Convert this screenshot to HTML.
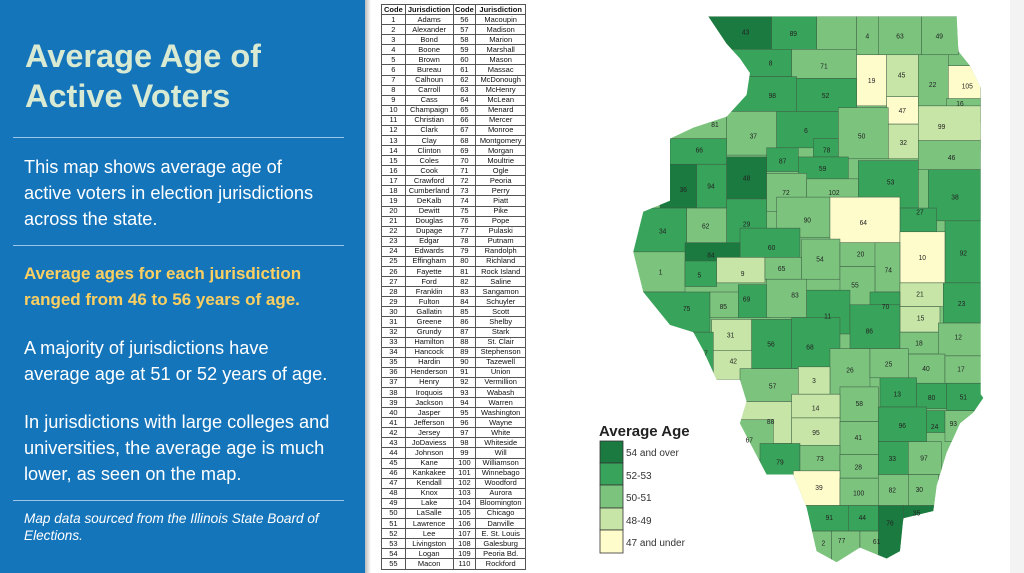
<!DOCTYPE html>
<html><head><meta charset="utf-8"><style>
*{margin:0;padding:0;box-sizing:border-box}
body{width:1024px;height:573px;position:relative;overflow:hidden;background:#fff;font-family:"Liberation Sans",sans-serif}
#left{position:absolute;left:0;top:0;width:365px;height:573px;background:#1575bb;color:#fff}
#shadow{position:absolute;left:365px;top:0;width:6px;height:573px;background:linear-gradient(to right,#bbb,#fff)}
.t{position:absolute;left:25px;font-weight:bold;font-size:32.5px;color:#d9ead3;line-height:40px}
.hr{position:absolute;left:13px;width:331px;height:1px;background:#9cc6e8}
.p{position:absolute;left:24px;font-size:18.2px;line-height:26px;color:#fff;white-space:nowrap}
.y{color:#fcd060;font-weight:bold;font-size:17px}
.i{font-style:italic;font-size:13.6px;line-height:17px}
table{position:absolute;left:381px;top:4px;width:145px;height:566px;border-collapse:collapse;font-size:7.5px;text-align:center;color:#111}
td,th{border:1px solid #555;padding:0;line-height:8px;white-space:nowrap}
th{font-weight:bold}
#rg{position:absolute;left:1010px;top:0;width:14px;height:573px;background:#f3f3f3}
</style></head><body>
<div id="left">
<div class="t" style="top:36px">Average Age of<br>Active Voters</div>
<div class="hr" style="top:137px"></div>
<div class="p" style="top:154px">This map shows average age of<br>active voters in election jurisdictions<br>across the state.</div>
<div class="hr" style="top:245px"></div>
<div class="p y" style="top:261px">Average ages for each jurisdiction<br>ranged from 46 to 56 years of age.</div>
<div class="p" style="top:335px">A majority of jurisdictions have<br>average age at 51 or 52 years of age.</div>
<div class="p" style="top:409px">In jurisdictions with large colleges and<br>universities, the average age is much<br>lower, as seen on the map.</div>
<div class="hr" style="top:500px"></div>
<div class="p i" style="top:510px">Map data sourced from the Illinois State Board of<br>Elections.</div>
</div>
<div id="shadow"></div>
<table>
<colgroup><col style="width:24px"><col style="width:48px"><col style="width:23px"><col style="width:50px"></colgroup>
<tr><th>Code</th><th>Jurisdiction</th><th>Code</th><th>Jurisdiction</th></tr>
<tr><td>1</td><td>Adams</td><td>56</td><td>Macoupin</td></tr>
<tr><td>2</td><td>Alexander</td><td>57</td><td>Madison</td></tr>
<tr><td>3</td><td>Bond</td><td>58</td><td>Marion</td></tr>
<tr><td>4</td><td>Boone</td><td>59</td><td>Marshall</td></tr>
<tr><td>5</td><td>Brown</td><td>60</td><td>Mason</td></tr>
<tr><td>6</td><td>Bureau</td><td>61</td><td>Massac</td></tr>
<tr><td>7</td><td>Calhoun</td><td>62</td><td>McDonough</td></tr>
<tr><td>8</td><td>Carroll</td><td>63</td><td>McHenry</td></tr>
<tr><td>9</td><td>Cass</td><td>64</td><td>McLean</td></tr>
<tr><td>10</td><td>Champaign</td><td>65</td><td>Menard</td></tr>
<tr><td>11</td><td>Christian</td><td>66</td><td>Mercer</td></tr>
<tr><td>12</td><td>Clark</td><td>67</td><td>Monroe</td></tr>
<tr><td>13</td><td>Clay</td><td>68</td><td>Montgomery</td></tr>
<tr><td>14</td><td>Clinton</td><td>69</td><td>Morgan</td></tr>
<tr><td>15</td><td>Coles</td><td>70</td><td>Moultrie</td></tr>
<tr><td>16</td><td>Cook</td><td>71</td><td>Ogle</td></tr>
<tr><td>17</td><td>Crawford</td><td>72</td><td>Peoria</td></tr>
<tr><td>18</td><td>Cumberland</td><td>73</td><td>Perry</td></tr>
<tr><td>19</td><td>DeKalb</td><td>74</td><td>Piatt</td></tr>
<tr><td>20</td><td>Dewitt</td><td>75</td><td>Pike</td></tr>
<tr><td>21</td><td>Douglas</td><td>76</td><td>Pope</td></tr>
<tr><td>22</td><td>Dupage</td><td>77</td><td>Pulaski</td></tr>
<tr><td>23</td><td>Edgar</td><td>78</td><td>Putnam</td></tr>
<tr><td>24</td><td>Edwards</td><td>79</td><td>Randolph</td></tr>
<tr><td>25</td><td>Effingham</td><td>80</td><td>Richland</td></tr>
<tr><td>26</td><td>Fayette</td><td>81</td><td>Rock Island</td></tr>
<tr><td>27</td><td>Ford</td><td>82</td><td>Saline</td></tr>
<tr><td>28</td><td>Franklin</td><td>83</td><td>Sangamon</td></tr>
<tr><td>29</td><td>Fulton</td><td>84</td><td>Schuyler</td></tr>
<tr><td>30</td><td>Gallatin</td><td>85</td><td>Scott</td></tr>
<tr><td>31</td><td>Greene</td><td>86</td><td>Shelby</td></tr>
<tr><td>32</td><td>Grundy</td><td>87</td><td>Stark</td></tr>
<tr><td>33</td><td>Hamilton</td><td>88</td><td>St. Clair</td></tr>
<tr><td>34</td><td>Hancock</td><td>89</td><td>Stephenson</td></tr>
<tr><td>35</td><td>Hardin</td><td>90</td><td>Tazewell</td></tr>
<tr><td>36</td><td>Henderson</td><td>91</td><td>Union</td></tr>
<tr><td>37</td><td>Henry</td><td>92</td><td>Vermillion</td></tr>
<tr><td>38</td><td>Iroquois</td><td>93</td><td>Wabash</td></tr>
<tr><td>39</td><td>Jackson</td><td>94</td><td>Warren</td></tr>
<tr><td>40</td><td>Jasper</td><td>95</td><td>Washington</td></tr>
<tr><td>41</td><td>Jefferson</td><td>96</td><td>Wayne</td></tr>
<tr><td>42</td><td>Jersey</td><td>97</td><td>White</td></tr>
<tr><td>43</td><td>JoDaviess</td><td>98</td><td>Whiteside</td></tr>
<tr><td>44</td><td>Johnson</td><td>99</td><td>Will</td></tr>
<tr><td>45</td><td>Kane</td><td>100</td><td>Williamson</td></tr>
<tr><td>46</td><td>Kankakee</td><td>101</td><td>Winnebago</td></tr>
<tr><td>47</td><td>Kendall</td><td>102</td><td>Woodford</td></tr>
<tr><td>48</td><td>Knox</td><td>103</td><td>Aurora</td></tr>
<tr><td>49</td><td>Lake</td><td>104</td><td>Bloomington</td></tr>
<tr><td>50</td><td>LaSalle</td><td>105</td><td>Chicago</td></tr>
<tr><td>51</td><td>Lawrence</td><td>106</td><td>Danville</td></tr>
<tr><td>52</td><td>Lee</td><td>107</td><td>E. St. Louis</td></tr>
<tr><td>53</td><td>Livingston</td><td>108</td><td>Galesburg</td></tr>
<tr><td>54</td><td>Logan</td><td>109</td><td>Peoria Bd.</td></tr>
<tr><td>55</td><td>Macon</td><td>110</td><td>Rockford</td></tr>
</table>
<div id="rg"></div>
<svg width="1024" height="573" style="position:absolute;left:0;top:0">
<defs><clipPath id="il"><polygon points="445,45 1190,45 1195,140 1230,180 1262,240 1262,1080 1270,1090 1240,1130 1200,1160 1160,1240 1130,1330 1120,1400 1030,1420 1020,1510 980,1530 900,1500 830,1540 770,1510 740,1390 700,1300 620,1300 580,1230 540,1160 560,1100 540,1040 470,1040 430,960 400,910 330,890 250,800 220,690 250,580 330,550 330,380 400,350 500,320 560,260 570,200 540,160 500,120"/></clipPath></defs>
</svg>
<svg width="1024" height="573" style="position:absolute;left:0;top:0">
<g transform="translate(560,0) scale(0.3333,0.365)" font-family="Liberation Sans" font-size="20" text-anchor="middle" fill="#222" stroke="#3d5e44" stroke-width="1.5">
<g clip-path="url(#il)">
<rect x="0" y="0" width="1400" height="1600" fill="#7cc47e"/>
<rect x="445" y="45" width="190" height="90" fill="#1a7a40"/><rect x="635" y="45" width="135" height="90" fill="#38a35a"/>
<rect x="770" y="45" width="120" height="105" fill="#7cc47e"/><rect x="890" y="45" width="65" height="105" fill="#7cc47e"/>
<rect x="955" y="45" width="130" height="105" fill="#7cc47e"/><rect x="1085" y="45" width="110" height="105" fill="#7cc47e"/>
<rect x="500" y="135" width="195" height="75" fill="#38a35a"/><rect x="695" y="135" width="195" height="80" fill="#7cc47e"/>
<rect x="890" y="150" width="90" height="140" fill="#fffccc"/><rect x="980" y="150" width="95" height="115" fill="#c6e5a6"/>
<rect x="1075" y="150" width="90" height="140" fill="#7cc47e"/><rect x="1165" y="180" width="97" height="110" fill="#fffccc"/>
<rect x="500" y="210" width="210" height="95" fill="#38a35a"/><rect x="710" y="215" width="180" height="90" fill="#38a35a"/>
<rect x="980" y="265" width="95" height="75" fill="#fffccc"/><rect x="1160" y="270" width="102" height="65" fill="#7cc47e"/>
<rect x="330" y="280" width="170" height="100" fill="#7cc47e"/><rect x="500" y="305" width="150" height="120" fill="#7cc47e"/>
<rect x="650" y="305" width="185" height="100" fill="#38a35a"/><rect x="835" y="295" width="150" height="140" fill="#7cc47e"/>
<rect x="985" y="340" width="90" height="95" fill="#c6e5a6"/><rect x="1075" y="290" width="187" height="120" fill="#c6e5a6"/>
<rect x="330" y="380" width="170" height="70" fill="#38a35a"/><rect x="760" y="380" width="75" height="50" fill="#38a35a"/>
<rect x="1075" y="385" width="187" height="80" fill="#7cc47e"/><rect x="620" y="405" width="95" height="65" fill="#38a35a"/>
<rect x="715" y="430" width="150" height="60" fill="#38a35a"/><rect x="300" y="450" width="110" height="120" fill="#1a7a40"/>
<rect x="410" y="450" width="90" height="120" fill="#38a35a"/><rect x="500" y="430" width="120" height="115" fill="#1a7a40"/>
<rect x="895" y="440" width="180" height="130" fill="#38a35a"/><rect x="1105" y="465" width="157" height="140" fill="#38a35a"/>
<rect x="620" y="475" width="120" height="105" fill="#7cc47e"/><rect x="740" y="490" width="155" height="85" fill="#7cc47e"/>
<rect x="1020" y="570" width="110" height="65" fill="#38a35a"/><rect x="200" y="570" width="180" height="120" fill="#38a35a"/>
<rect x="380" y="570" width="120" height="95" fill="#7cc47e"/><rect x="500" y="545" width="120" height="145" fill="#38a35a"/>
<rect x="650" y="540" width="160" height="110" fill="#7cc47e"/><rect x="810" y="540" width="210" height="125" fill="#fffccc"/>
<rect x="1155" y="605" width="120" height="170" fill="#38a35a"/><rect x="540" y="625" width="180" height="80" fill="#38a35a"/>
<rect x="375" y="665" width="165" height="70" fill="#1a7a40"/><rect x="1020" y="635" width="135" height="140" fill="#fffccc"/>
<rect x="200" y="690" width="175" height="110" fill="#7cc47e"/><rect x="375" y="715" width="95" height="70" fill="#38a35a"/>
<rect x="470" y="705" width="145" height="70" fill="#c6e5a6"/><rect x="615" y="705" width="110" height="60" fill="#7cc47e"/>
<rect x="725" y="655" width="115" height="110" fill="#7cc47e"/><rect x="840" y="665" width="120" height="65" fill="#7cc47e"/>
<rect x="945" y="665" width="75" height="135" fill="#7cc47e"/><rect x="840" y="730" width="105" height="105" fill="#7cc47e"/>
<rect x="1020" y="775" width="130" height="65" fill="#c6e5a6"/><rect x="1150" y="775" width="112" height="110" fill="#38a35a"/>
<rect x="250" y="800" width="200" height="110" fill="#38a35a"/><rect x="450" y="800" width="85" height="70" fill="#7cc47e"/>
<rect x="535" y="780" width="95" height="90" fill="#38a35a"/><rect x="620" y="765" width="120" height="105" fill="#7cc47e"/>
<rect x="740" y="795" width="130" height="120" fill="#38a35a"/><rect x="930" y="800" width="90" height="90" fill="#38a35a"/>
<rect x="1020" y="840" width="120" height="70" fill="#c6e5a6"/><rect x="870" y="835" width="150" height="120" fill="#38a35a"/>
<rect x="455" y="875" width="120" height="90" fill="#c6e5a6"/><rect x="575" y="875" width="120" height="135" fill="#38a35a"/>
<rect x="695" y="870" width="145" height="140" fill="#38a35a"/><rect x="1020" y="910" width="115" height="60" fill="#7cc47e"/>
<rect x="1135" y="885" width="140" height="90" fill="#7cc47e"/><rect x="400" y="910" width="60" height="130" fill="#38a35a"/>
<rect x="460" y="960" width="115" height="80" fill="#c6e5a6"/><rect x="810" y="955" width="120" height="125" fill="#7cc47e"/>
<rect x="930" y="955" width="115" height="80" fill="#7cc47e"/><rect x="1045" y="970" width="110" height="80" fill="#7cc47e"/>
<rect x="1155" y="975" width="120" height="75" fill="#7cc47e"/><rect x="540" y="1010" width="175" height="90" fill="#7cc47e"/>
<rect x="715" y="1005" width="95" height="75" fill="#c6e5a6"/><rect x="960" y="1035" width="110" height="80" fill="#38a35a"/>
<rect x="1070" y="1050" width="90" height="70" fill="#38a35a"/><rect x="1160" y="1050" width="120" height="75" fill="#38a35a"/>
<rect x="840" y="1060" width="115" height="95" fill="#7cc47e"/><rect x="695" y="1080" width="145" height="65" fill="#c6e5a6"/>
<rect x="540" y="1100" width="155" height="115" fill="#c6e5a6"/><rect x="955" y="1115" width="145" height="95" fill="#38a35a"/>
<rect x="1100" y="1125" width="55" height="60" fill="#38a35a"/><rect x="1155" y="1125" width="100" height="85" fill="#7cc47e"/>
<rect x="695" y="1145" width="145" height="80" fill="#c6e5a6"/><rect x="840" y="1155" width="115" height="90" fill="#7cc47e"/>
<rect x="520" y="1150" width="120" height="110" fill="#7cc47e"/><rect x="600" y="1215" width="120" height="95" fill="#38a35a"/>
<rect x="720" y="1220" width="120" height="70" fill="#7cc47e"/><rect x="955" y="1210" width="90" height="90" fill="#38a35a"/>
<rect x="1045" y="1210" width="100" height="90" fill="#7cc47e"/><rect x="840" y="1245" width="115" height="65" fill="#7cc47e"/>
<rect x="700" y="1290" width="140" height="95" fill="#fffccc"/><rect x="840" y="1310" width="115" height="75" fill="#7cc47e"/>
<rect x="955" y="1300" width="90" height="85" fill="#7cc47e"/><rect x="1045" y="1300" width="90" height="85" fill="#7cc47e"/>
<rect x="730" y="1385" width="135" height="70" fill="#38a35a"/><rect x="865" y="1385" width="90" height="70" fill="#38a35a"/>
<rect x="955" y="1385" width="75" height="170" fill="#1a7a40"/><rect x="1030" y="1385" width="100" height="40" fill="#1a7a40"/>
<rect x="730" y="1455" width="85" height="100" fill="#7cc47e"/><rect x="815" y="1455" width="85" height="100" fill="#7cc47e"/>
<rect x="900" y="1455" width="55" height="100" fill="#7cc47e"/><rect x="1030" y="1425" width="20" height="100" fill="#7cc47e"/>
</g>
<g stroke="none">
<text x="557" y="95">43</text><text x="700" y="98">89</text><text x="922" y="105">4</text><text x="1020" y="105">63</text><text x="1138" y="105">49</text>
<text x="632" y="180">8</text><text x="792" y="188">71</text><text x="935" y="228">19</text><text x="1025" y="212">45</text><text x="1118" y="238">22</text><text x="1222" y="243">105</text>
<text x="637" y="268">98</text><text x="797" y="268">52</text><text x="1027" y="310">47</text><text x="1200" y="290">16</text>
<text x="465" y="348">81</text><text x="580" y="380">37</text><text x="738" y="365">6</text><text x="905" y="380">50</text><text x="1030" y="397">32</text><text x="1145" y="353">99</text>
<text x="418" y="418">66</text><text x="800" y="418">78</text><text x="1175" y="438">46</text><text x="668" y="448">87</text><text x="788" y="468">59</text>
<text x="370" y="526">36</text><text x="453" y="516">94</text><text x="560" y="494">48</text><text x="992" y="506">53</text><text x="1185" y="546">38</text>
<text x="678" y="534">72</text><text x="822" y="534">102</text><text x="1080" y="588">27</text><text x="308" y="640">34</text><text x="437" y="626">62</text>
<text x="560" y="620">29</text><text x="742" y="610">90</text><text x="910" y="616">64</text><text x="1210" y="700">92</text><text x="635" y="685">60</text>
<text x="453" y="706">84</text><text x="1087" y="712">10</text><text x="302" y="752">1</text><text x="418" y="760">5</text><text x="548" y="756">9</text>
<text x="665" y="743">65</text><text x="780" y="716">54</text><text x="902" y="703">20</text><text x="985" y="747">74</text><text x="885" y="787">55</text>
<text x="1080" y="812">21</text><text x="1205" y="838">23</text><text x="380" y="852">75</text><text x="490" y="846">85</text><text x="560" y="826">69</text>
<text x="705" y="815">83</text><text x="803" y="873">11</text><text x="977" y="847">70</text><text x="1082" y="878">15</text><text x="928" y="914">86</text>
<text x="512" y="924">31</text><text x="633" y="950">56</text><text x="750" y="957">68</text><text x="1077" y="947">18</text><text x="1195" y="930">12</text>
<text x="438" y="974">7</text><text x="520" y="996">42</text><text x="870" y="1021">26</text><text x="986" y="1004">25</text><text x="1098" y="1017">40</text>
<text x="1203" y="1018">17</text><text x="638" y="1064">57</text><text x="762" y="1050">3</text><text x="1012" y="1086">13</text><text x="1115" y="1096">80</text>
<text x="1210" y="1094">51</text><text x="898" y="1113">58</text><text x="767" y="1124">14</text><text x="632" y="1162">88</text><text x="1027" y="1172">96</text>
<text x="1124" y="1176">24</text><text x="1180" y="1167">93</text><text x="768" y="1192">95</text><text x="895" y="1206">41</text><text x="568" y="1212">67</text>
<text x="660" y="1272">79</text><text x="780" y="1263">73</text><text x="997" y="1263">33</text><text x="1092" y="1262">97</text><text x="895" y="1287">28</text>
<text x="777" y="1342">39</text><text x="896" y="1357">100</text><text x="997" y="1350">82</text><text x="1078" y="1348">30</text><text x="808" y="1425">91</text>
<text x="907" y="1425">44</text><text x="990" y="1440">76</text><text x="1070" y="1412">35</text><text x="790" y="1495">2</text><text x="845" y="1488">77</text><text x="950" y="1490">61</text>
</g>
</g>
<text x="599" y="436" font-family="Liberation Sans" font-weight="bold" font-size="15" fill="#222">Average Age</text>
<g stroke="#333" stroke-width="0.8">
<rect x="600" y="441" width="23" height="22" fill="#1a7a40"/>
<rect x="600" y="463" width="23" height="22" fill="#38a35a"/>
<rect x="600" y="485" width="23" height="23" fill="#7cc47e"/>
<rect x="600" y="508" width="23" height="22" fill="#c6e5a6"/>
<rect x="600" y="530" width="23" height="23" fill="#fffccc"/>
</g>
<g font-family="Liberation Sans" font-size="10" fill="#333">
<text x="626" y="456">54 and over</text><text x="626" y="479">52-53</text><text x="626" y="501">50-51</text><text x="626" y="524">48-49</text><text x="626" y="546">47 and under</text>
</g>
</svg>
</body></html>
